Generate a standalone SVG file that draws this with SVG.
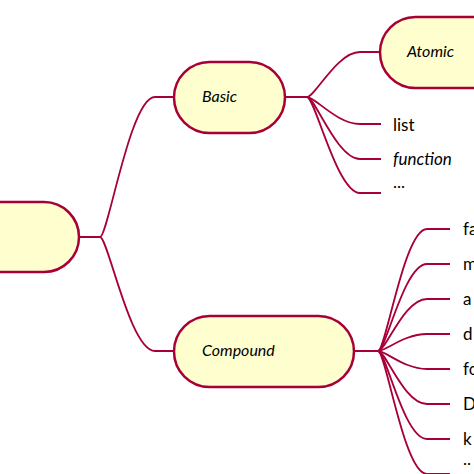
<svg xmlns="http://www.w3.org/2000/svg" width="474" height="474" viewBox="0 0 474 474">
<style>
.node{fill:#fefece;stroke:#a80036;stroke-width:2.5}
.c{fill:none;stroke:#a80036;stroke-width:1.8}
.t{font-family:Lato,"Liberation Sans",sans-serif;font-size:16px;font-style:italic;fill:#000}
.l{font-family:Lato,"Liberation Sans",sans-serif;font-size:17px;fill:#000}
.i{font-style:italic}
</style>
<rect width="474" height="474" fill="#fff"/>
<g id="connectors">
<path class="c" d="M79,237 L100,237 C108,237 130,97 155,97 L174,97"/>
<path class="c" d="M100,237 C108,237 130,351 155,351 L174,351"/>
<path class="c" d="M285,97 L307,97 C315,97 337,52 360,52 L380,52"/>
<path class="c" d="M307,97 C315,97 337,124 360,124 L381,124"/>
<path class="c" d="M307,97 C315,97 337,159 360,159 L381,159"/>
<path class="c" d="M307,97 C315,97 337,193 360,193 L381,193"/>
<path class="c" d="M354,351 L378,351 C386,351 404,229 427,229 L450,229"/>
<path class="c" d="M378,351 C386,351 404,264 427,264 L450,264"/>
<path class="c" d="M378,351 C386,351 404,299 427,299 L450,299"/>
<path class="c" d="M378,351 C386,351 404,334 427,334 L450,334"/>
<path class="c" d="M378,351 C386,351 404,369 427,369 L450,369"/>
<path class="c" d="M378,351 C386,351 404,404 427,404 L450,404"/>
<path class="c" d="M378,351 C386,351 404,439 427,439 L450,439"/>
<path class="c" d="M378,351 C386,351 404,474 427,474 L450,474"/>
</g>
<g id="root"><rect class="node" x="-100" y="202" width="179" height="70" rx="35"/></g>
<g id="basic"><rect class="node" x="174" y="62" width="111" height="71" rx="35.5"/><text class="t" x="202" y="102">Basic</text></g>
<g id="compound"><rect class="node" x="174" y="316" width="180" height="71" rx="35.5"/><text class="t" x="202" y="356">Compound</text></g>
<g id="atomic"><rect class="node" x="380" y="17" width="140" height="71" rx="35.5"/><text class="t" x="407" y="57">Atomic</text></g>
<g id="leaf-list"><text class="l" x="393" y="131">list</text></g>
<g id="leaf-function"><text class="l i" x="393" y="165">function</text></g>
<g id="leaf-basic-more"><text class="l" x="393" y="188">...</text></g>
<g id="leaf-fa"><text class="l" x="463" y="235">fa</text></g>
<g id="leaf-m"><text class="l" x="463" y="270">m</text></g>
<g id="leaf-a"><text class="l" x="463" y="305">a</text></g>
<g id="leaf-d"><text class="l" x="463" y="340">d</text></g>
<g id="leaf-fo"><text class="l" x="463" y="375">fo</text></g>
<g id="leaf-D"><text class="l" x="463" y="410">D</text></g>
<g id="leaf-k"><text class="l" x="463" y="445">k</text></g>
<g id="leaf-compound-more"><text class="l" x="463" y="465">..</text></g>
</svg>
